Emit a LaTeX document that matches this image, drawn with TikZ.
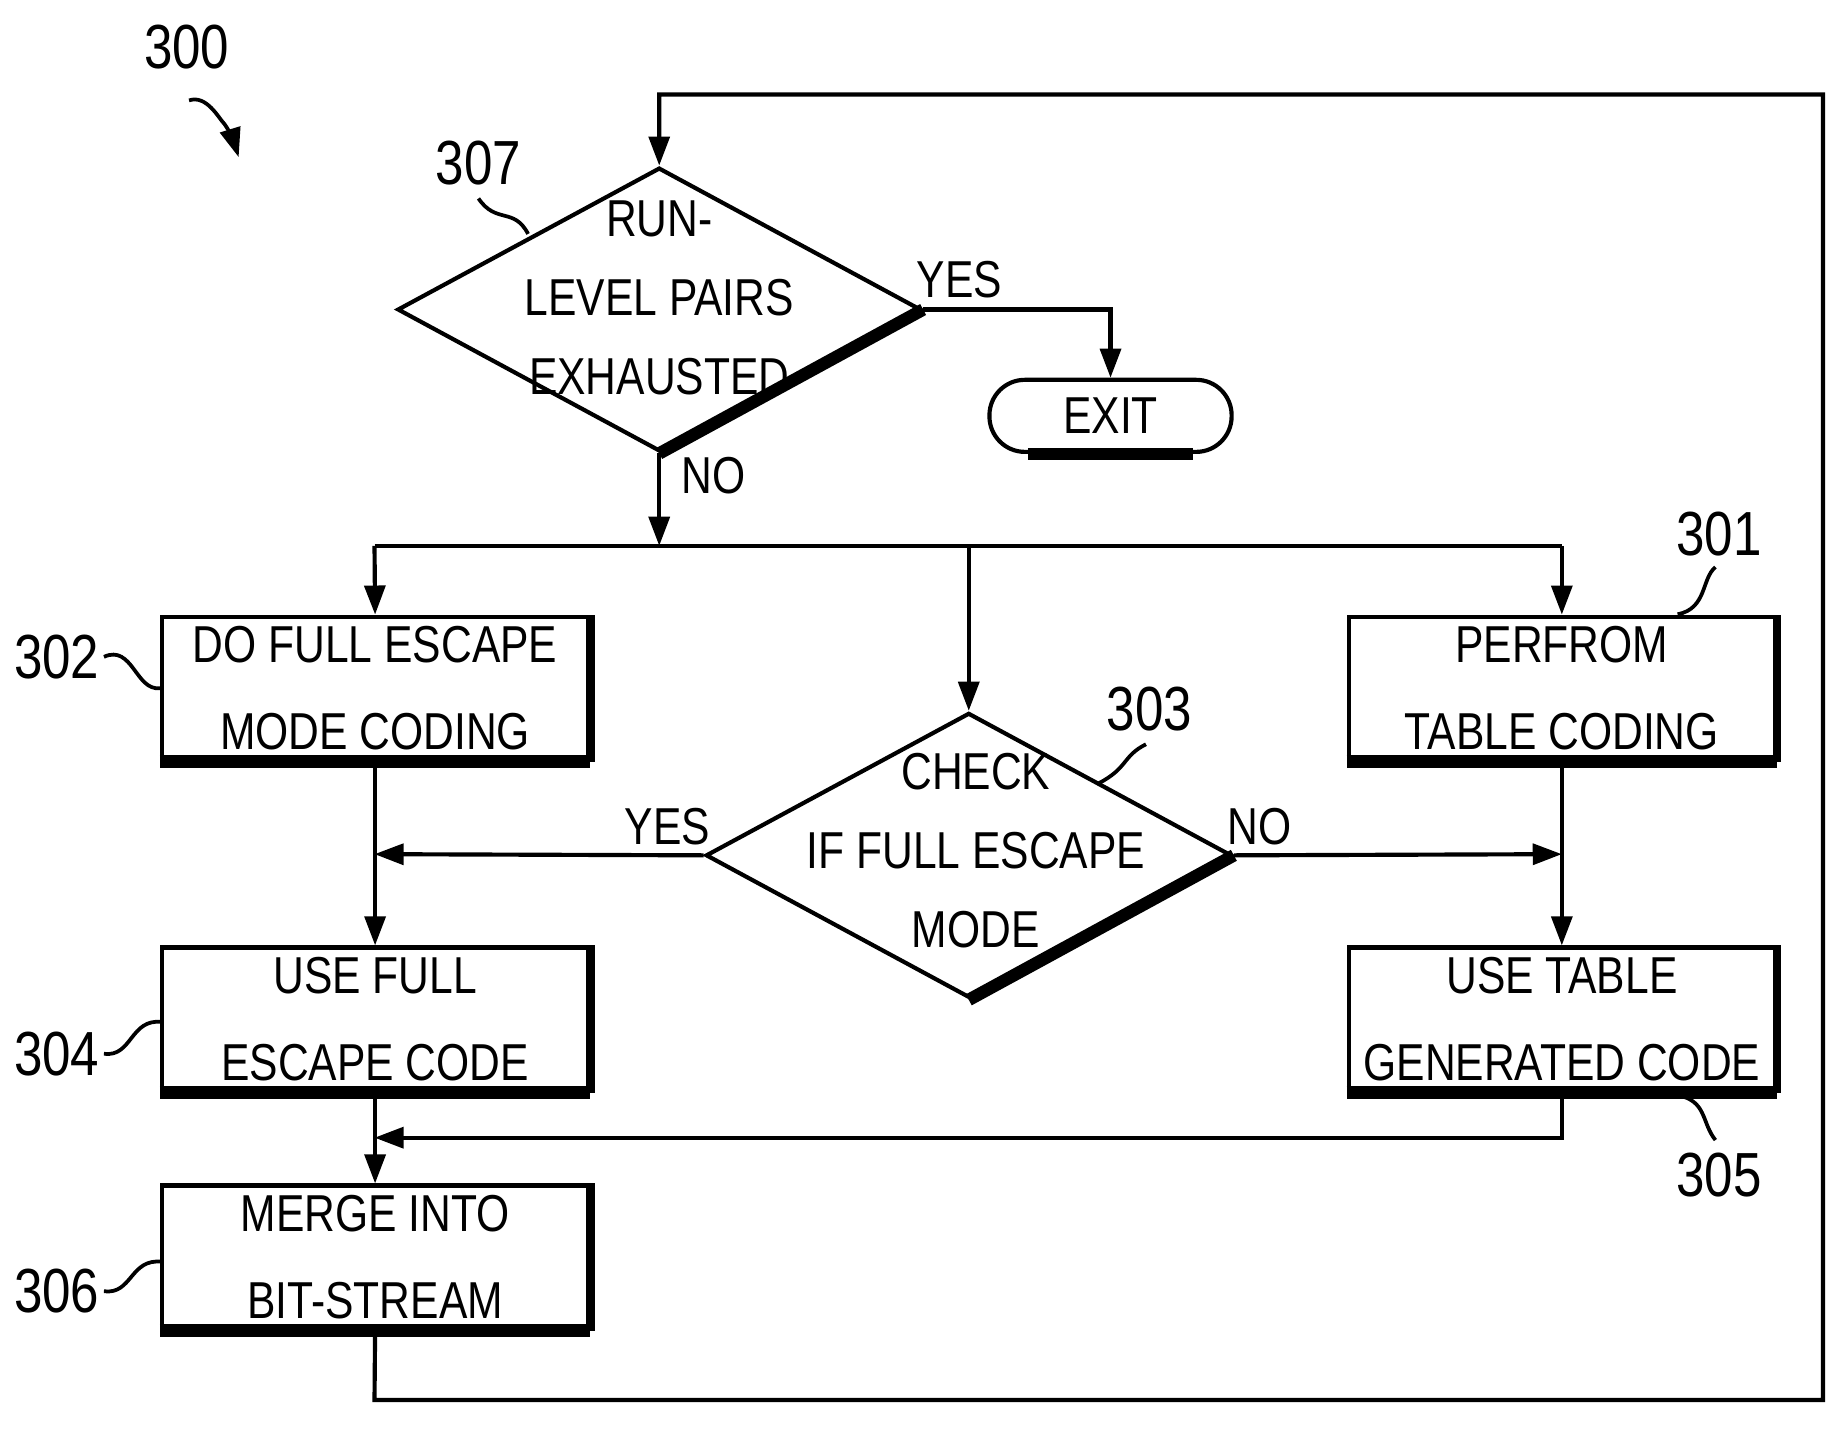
\documentclass[tikz,border=0pt]{standalone}
\usepackage{fontspec}
\setmainfont{Liberation Sans}[FakeStretch=0.82]
\usetikzlibrary{shapes.geometric,arrows.meta}
\begin{document}
\begin{tikzpicture}[x=0.01cm,y=-0.01cm,line width=1pt,
  tip/.style={-{Triangle[length=7pt,width=5pt]}},
  txt/.style={font=\fontsize{12.5}{15}\selectfont,align=center,inner sep=0pt},
  num/.style={font=\fontsize{15}{17}\selectfont,inner sep=0pt},
  box/.style={draw,minimum width=361*0.01cm,minimum height=121*0.01cm,inner sep=0pt},
  dia/.style={draw,diamond,inner sep=0pt,minimum width=4.43cm,minimum height=2.4cm},
  shadow/.style={line width=3pt}]
\useasboundingbox (0,0) rectangle (1560,1225);
% diamond 307
\node[dia] (d307) at (558,262) {};
\draw[shadow] (d307.east) -- (d307.south);
\node[txt] at (558,252) {RUN-\\[4pt]LEVEL PAIRS\\[4pt]EXHAUSTED};
% exit
\node[draw,rounded corners=30*0.01cm,minimum width=205*0.01cm,minimum height=61*0.01cm,inner sep=0pt,txt] (exit) at (940,352) {EXIT};
\draw[shadow] ([xshift=-0.7cm]exit.south) -- ([xshift=0.7cm]exit.south);
% boxes
\node[box,txt] (b302) at (317.5,582.5) {DO FULL ESCAPE\\[6pt]MODE CODING};
\node[box,txt] (b301) at (1322,582.5) {PERFROM\\[6pt]TABLE CODING};
\node[box,txt] (b304) at (317.5,862.5) {USE FULL\\[6pt]ESCAPE CODE};
\node[box,txt] (b305) at (1322,862.5) {USE TABLE\\[6pt]GENERATED CODE};
\node[box,txt] (b306) at (317.5,1064) {MERGE INTO\\[6pt]BIT-STREAM};
\foreach \b in {b302,b301,b304,b305,b306}{
  \draw[shadow] (\b.south west) -- (\b.south east);
  \draw[line width=2pt] (\b.south east) -- (\b.north east);}
% diamond 303
\node[dia,minimum width=4.45cm,minimum height=2.41cm] (d303) at (820,724) {};
\draw[shadow] (d303.east) -- (d303.south);
\node[txt] at (826,720) {CHECK\\[4pt]IF FULL ESCAPE\\[4pt]MODE};
% coordinates
\coordinate (loopA) at (317,1185);
\coordinate (loopB) at (1543,1185);
\coordinate (loopC) at (1543,80);
\coordinate (loopD) at (558,80);
\coordinate (split) at (558,462);
\coordinate (sl) at (317,462);
\coordinate (sm) at (820,462);
\coordinate (sr) at (1322,462);
\coordinate (yesT) at (317,723);
\coordinate (noT) at (1322,723);
\coordinate (mergeR) at (1322,963);
\coordinate (mergeL) at (317,963);
% connectors
\draw[tip] (b306.south) -- (loopA) -- (loopB) -- (loopC) -- (loopD) -- (d307.north);
\draw[tip] (d307.east) -| (exit.north);
\node[txt] at (812,237) {YES};
\draw[tip] (d307.south) -- (split);
\node[txt] at (604,403) {NO};
\draw (sl) -- (sr);
\draw[tip] (sl) -- (b302.north);
\draw[tip] (sm) -- (d303.north);
\draw[tip] (sr) -- (b301.north);
\draw[tip] (d303.west) -- (yesT);
\node[txt] at (565,700) {YES};
\draw[tip] (d303.east) -- (noT);
\node[txt] at (1066,700) {NO};
\draw[tip] (b302.south) -- (b304.north);
\draw[tip] (b301.south) -- (b305.north);
\draw[tip] (b304.south) -- (b306.north);
\draw[tip] (b305.south) -- (mergeR) -- (mergeL);
% reference numerals
\node[num] (n300) at (158,40) {300};
\coordinate (a300s) at (160,85);
\coordinate (a300e) at (202,133);
\draw[tip,line width=0.9pt] (a300s) .. controls (175,80) and (185,100) .. (190,105) .. controls (195,112) and (198,120) .. (a300e);
\node[num] (n307) at (405,138) {307};
\coordinate (l307) at (447,198);
\draw[line width=0.9pt] (405,168) .. controls (420,190) and (435,175) .. (l307);
\node[num] (n302) at (48,556) {302};
\draw[line width=0.9pt] (88,556) .. controls (112,545) and (115,585) .. (b302.west);
\node[num] (n304) at (48,892) {304};
\draw[line width=0.9pt] (88,892) .. controls (112,895) and (110,862) .. (137,865);
\node[num] (n306) at (48,1093) {306};
\draw[line width=0.9pt] (88,1093) .. controls (112,1096) and (110,1065) .. (137,1068);
\node[num] (n301) at (1455,452) {301};
\draw[line width=0.9pt] (1420,520) .. controls (1445,515) and (1440,490) .. (1452,480);
\node[num] (n303) at (973,600) {303};
\draw[line width=0.9pt] (930,663) .. controls (955,650) and (950,640) .. (970,630);
\node[num] (n305) at (1455,995) {305};
\draw[line width=0.9pt] (1420,927) .. controls (1445,932) and (1440,950) .. (1452,965);
\end{tikzpicture}
\end{document}
